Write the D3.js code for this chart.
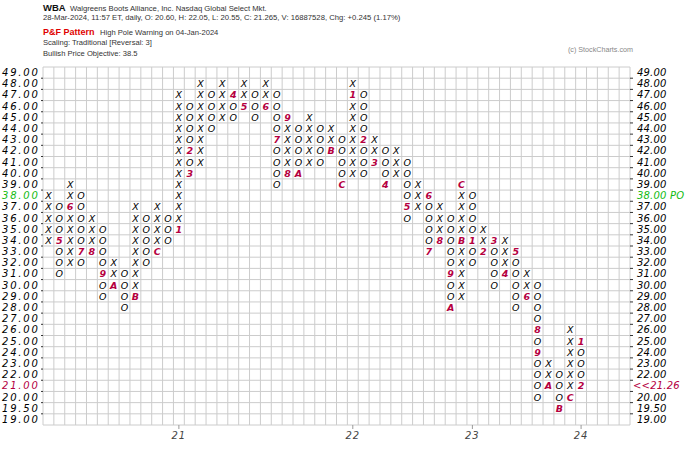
<!DOCTYPE html>
<html><head><meta charset="utf-8">
<script src="https://cdn.jsdelivr.net/npm/d3@7"></script>
<style>body{margin:0;background:#fff}svg{display:block}</style>
</head><body>
<script>
// ---- data ----
const priceLevels = [49,48,47,46,45,44,43,42,41,40,39,38,37,36,35,34,33,32,31,30,29,28,27,26,25,24,23,22,21,20,19.5,19];
const colTypes = ["X","O","X","O","X","O","X","O","X","O","X","O","X","O","X","O","X","O","X","O","X","O","X","O","X","O","X","O","X","O","X","O","X","O","X","O","X","O","X","O","X","O","X","O","X","O","X","O","X","O"];
const colLows  = [34,31,32,32,33,29,30,28,29,32,33,34,35,40,41,44,45,45,46,45,46,39,40,40,41,41,42,39,40,40,41,39,40,36,37,33,34,28,29,32,33,30,31,28,29,20,21,19.5,20,21];
const colHighs = [38,37,39,38,36,35,32,31,37,36,37,36,47,46,48,47,48,47,48,47,48,47,45,44,45,44,44,43,48,47,43,42,42,41,39,38,37,36,39,38,35,34,34,33,31,30,23,22,26,25];
// month markers: [column, price, label]
const monthMarks = [[1,34,"5"],[2,37,"6"],[3,33,"7"],[4,33,"8"],[5,31,"9"],[6,30,"A"],[8,29,"B"],[10,33,"C"],
  [12,35,"1"],[13,42,"2"],[13,40,"3"],[17,47,"4"],[18,46,"5"],[20,46,"6"],[21,43,"7"],[22,40,"8"],[22,45,"9"],[23,40,"A"],[26,42,"B"],[27,39,"C"],
  [28,47,"1"],[29,43,"2"],[30,41,"3"],[31,39,"4"],[33,37,"5"],[35,38,"6"],[35,33,"7"],[36,34,"8"],[37,31,"9"],[37,28,"A"],[38,34,"B"],[38,39,"C"],
  [39,34,"1"],[40,33,"2"],[41,34,"3"],[42,31,"4"],[43,33,"5"],[44,29,"6"],[45,26,"8"],[45,24,"9"],[46,21,"A"],[47,19.5,"B"],[48,20,"C"],
  [49,25,"1"],[49,21,"2"]];
const yearLabels = ["21","22","23","24"];
const yearCols = [12,28,39,49];
const nCols = 54;
const priceObjective = 38;
const lastPrice = 21.26;
const lastRow = 21;

// ---- layout ----
const W = 700, H = 459;
const L = 43, R = 630, T = 67, B = 425;
const svg = d3.select("body").append("svg").attr("width", W).attr("height", H);
svg.append("rect").attr("width", W).attr("height", H).attr("fill", "#fff");

const x = d3.scaleBand().domain(d3.range(nCols)).range([L, R]).padding(0);
const y = d3.scaleBand().domain(priceLevels.map(String)).range([T, B]).padding(0);
const bw = x.bandwidth(), bh = y.bandwidth();

// grid
const g = svg.append("g");
g.selectAll("line.v").data(d3.range(nCols + 1)).join("line")
  .attr("x1", d => L + d * bw).attr("x2", d => L + d * bw)
  .attr("y1", T).attr("y2", B).attr("stroke", "#cccccc").attr("stroke-width", 1);
g.selectAll("line.h").data(d3.range(priceLevels.length + 1)).join("line")
  .attr("y1", d => T + d * bh).attr("y2", d => T + d * bh)
  .attr("x1", L).attr("x2", R).attr("stroke", "#cccccc").attr("stroke-width", 1);
// axis tick dashes
g.selectAll("line.tl").data(d3.range(1, priceLevels.length)).join("line")
  .attr("x1", L - 2).attr("x2", L).attr("y1", d => T + d * bh).attr("y2", d => T + d * bh)
  .attr("stroke", "#333");
g.selectAll("line.tr").data(d3.range(1, priceLevels.length)).join("line")
  .attr("x1", R).attr("x2", R + 3).attr("y1", d => T + d * bh).attr("y2", d => T + d * bh)
  .attr("stroke", "#333");

// boxes
const markMap = new Map(monthMarks.map(m => [m[0] + "|" + m[1], m[2]]));
const boxes = [];
colTypes.forEach((t, i) => {
  priceLevels.forEach(p => {
    if (p >= colLows[i] && p <= colHighs[i]) {
      const m = markMap.get(i + "|" + p);
      boxes.push({col: i, price: p, text: m || t, month: !!m});
    }
  });
});
svg.append("g").selectAll("text").data(boxes).join("text")
  .attr("x", d => x(d.col) + bw / 2)
  .attr("y", d => y(String(d.price)) + bh / 2)
  .attr("text-anchor", "middle").attr("dominant-baseline", "central")
  .attr("font-family", "DejaVu Sans, sans-serif")
  .attr("font-style", "italic")
  .attr("font-weight", d => d.month ? "bold" : "normal")
  .attr("font-size", 9.5)
  .attr("fill", d => d.month ? "#b5003f" : "#000")
  .text(d => d.text);

// price labels
const fmt = d3.format(".2f");
const lblStyle = sel => sel.attr("font-family", "DejaVu Sans, sans-serif").attr("font-style", "italic")
  .attr("font-size", 10).attr("dominant-baseline", "central");
const lblColor = d => d === priceObjective ? "#11bb11" : d === lastRow ? "#b5003f" : "#000";
svg.append("g").selectAll("text").data(priceLevels).join("text")
  .call(lblStyle).attr("letter-spacing", 1.8)
  .attr("x", 2).attr("y", d => y(String(d)) + bh / 2)
  .attr("fill", lblColor)
  .text(d => fmt(d));
svg.append("g").selectAll("text").data(priceLevels).join("text")
  .call(lblStyle).attr("letter-spacing", 0.2)
  .attr("x", d => d === lastRow ? R + 3 : R + 7).attr("y", d => y(String(d)) + bh / 2)
  .attr("fill", lblColor)
  .text(d => d === priceObjective ? fmt(d) + " PO" : d === lastRow ? "<<" + fmt(lastPrice) : fmt(d));

// year axis
const ya = svg.append("g");
ya.selectAll("line").data(yearCols).join("line")
  .attr("x1", d => x(d) + bw / 2).attr("x2", d => x(d) + bw / 2)
  .attr("y1", B).attr("y2", B + 4).attr("stroke", "#999");
ya.selectAll("text").data(yearCols).join("text")
  .attr("x", d => x(d) + bw / 2).attr("y", B + 14)
  .attr("text-anchor", "middle").attr("font-family", "DejaVu Sans, sans-serif")
  .attr("font-style", "italic").attr("font-size", 10).attr("letter-spacing", 1).attr("fill", "#444")
  .text((d, i) => yearLabels[i]);

// header
const hf = "Liberation Sans, Arial, sans-serif";
svg.append("text").attr("x", 43).attr("y", 10.5).attr("font-family", hf).attr("font-weight", "bold")
  .attr("font-size", 9.5).attr("fill", "#111").text("WBA");
svg.append("text").attr("x", 70).attr("y", 10.5).attr("font-family", hf)
  .attr("font-size", 7.7).attr("fill", "#333").text("Walgreens Boots Alliance, Inc.  Nasdaq Global Select Mkt.");
svg.append("text").attr("x", 43).attr("y", 20).attr("font-family", hf)
  .attr("font-size", 7.7).attr("fill", "#333").text("28-Mar-2024, 11:57 ET, daily, O: 20.60, H: 22.05, L: 20.55, C: 21.265, V: 16887528, Chg: +0.245 (1.17%)");
svg.append("text").attr("x", 43).attr("y", 34.5).attr("font-family", hf).attr("font-weight", "bold")
  .attr("font-size", 9).attr("fill", "#e00000").text("P&F Pattern");
svg.append("text").attr("x", 100).attr("y", 34.5).attr("font-family", hf)
  .attr("font-size", 7.6).attr("fill", "#333").text("High Pole Warning on 04-Jan-2024");
svg.append("text").attr("x", 43).attr("y", 45).attr("font-family", hf)
  .attr("font-size", 7.6).attr("fill", "#333").text("Scaling: Traditional [Reversal: 3]");
svg.append("text").attr("x", 43).attr("y", 55.5).attr("font-family", hf)
  .attr("font-size", 7.6).attr("fill", "#333").text("Bullish Price Objective: 38.5");
svg.append("text").attr("x", 633).attr("y", 52).attr("text-anchor", "end").attr("font-family", hf)
  .attr("font-size", 7.2).attr("fill", "#888").text("(c) StockCharts.com");
</script>
</body></html>
